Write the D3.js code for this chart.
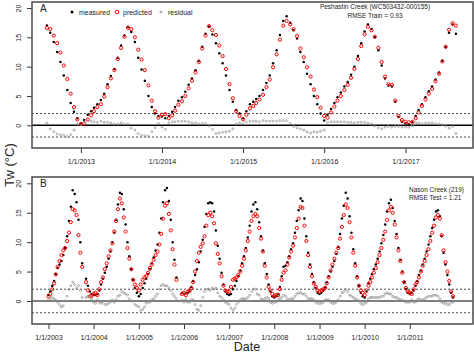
<!DOCTYPE html>
<html lang="en">
<head>
<meta charset="UTF-8">
<script src="https://cdn.jsdelivr.net/npm/d3@7"></script>
<style>
  body { margin: 0; background: #fff; }
  svg { display: block; font-family: "Liberation Sans", Arial, sans-serif; }
  .tick text { font-size: 7px; fill: #222; }
</style>
</head>
<body>
<svg id="chart" width="474" height="354"></svg>
<script>
// Semi-monthly readings (1st and 16th of each month), water temperature in deg C
// Panel A - Peshastin Creek, starts 1 Aug 2012
const aStart = "2012-08-01";
const aMeasured = [
  17.0, 15.8, 14.2, 12.5, 10.8, 8.5, 6.0, 3.8, 2.3, 1.2,
  0.3, 0.9, 1.8, 2.4, 3.0, 3.6, 4.3, 5.4, 7.0, 8.4, 9.6, 11.5, 13.6, 15.3, 16.8, 15.9, 14.2, 11.5, 9.5, 7.6, 5.0, 3.1, 2.0, 1.6,
  1.5, 1.2, 1.6, 2.3, 3.1, 4.2, 4.8, 5.7, 6.9, 8.0, 9.4, 11.0, 13.4, 15.6, 16.8, 15.5, 14.0, 12.3, 10.6, 8.5, 6.0, 4.0, 2.6, 2.0,
  1.2, 2.4, 3.6, 4.0, 4.5, 5.0, 6.0, 7.2, 8.5, 10.6, 12.8, 15.4, 17.8, 18.6, 17.5, 16.2, 14.8, 12.5, 10.8, 8.8, 7.0, 5.0, 3.6, 2.0,
  0.8, 1.8, 2.8, 3.8, 4.8, 5.6, 6.6, 7.4, 8.6, 10.0, 11.8, 14.0, 16.0, 17.2, 16.4, 15.0, 12.8, 10.2, 8.0, 6.8, 6.6, 4.0, 1.4, 0.6,
  0.3, 0.2, 0.5, 1.6, 2.6, 3.6, 4.8, 5.8, 6.6, 7.8, 9.0, 11.0, 13.3, 15.8, 17.2, 15.6
];
const aPredicted = [
  16.6, 16.4, 15.3, 14.0, 12.4, 10.2, 7.9, 5.4, 3.1, 1.0,
  0.2, 0.3, 1.0, 1.7, 2.4, 3.1, 3.6, 4.9, 6.5, 8.0, 9.4, 11.3, 13.2, 15.1, 16.6, 16.4, 15.0, 12.9, 11.2, 9.4, 6.8, 4.2, 2.4, 1.3,
  1.8, 1.9, 1.2, 1.7, 2.5, 3.5, 4.1, 5.0, 6.3, 7.6, 9.0, 10.8, 13.1, 15.3, 16.9, 16.2, 15.4, 13.6, 11.8, 9.6, 7.0, 4.6, 2.4, 1.6,
  1.0, 1.8, 2.9, 3.3, 3.8, 4.4, 5.2, 6.5, 7.8, 9.9, 12.1, 14.6, 17.0, 17.8, 17.2, 16.4, 15.2, 13.1, 11.6, 9.9, 8.3, 6.1, 4.8, 3.0,
  1.6, 1.3, 2.2, 3.2, 4.2, 5.0, 6.0, 6.9, 8.1, 9.6, 11.3, 13.5, 15.5, 16.8, 16.2, 15.1, 13.2, 10.8, 8.3, 7.0, 6.9, 4.2, 1.6, 0.9,
  0.6, 0.5, 0.6, 1.2, 2.2, 3.3, 4.4, 5.4, 6.2, 7.5, 8.8, 10.9, 13.4, 16.3, 17.4, 17.0
];
const aTicks = ["2013-01-01", "2014-01-01", "2015-01-01", "2016-01-01", "2017-01-01"];

// Panel B - Nason Creek, starts 1 Jan 2003 (null = no record)
const bStart = "2003-01-01";
const bMeasured = [
  1.0, 1.6, 2.6, 3.4, 4.6, 5.6, 6.2, 6.8, 7.8, 9.0, 11.0, 13.6, 16.0, 18.8, 18.2, 16.8, 13.8, 10.0, 6.4, null, 3.8, 2.6, 1.6, 1.2,
  1.0, 1.0, 1.2, 1.8, 2.8, 3.8, 4.8, 5.8, 7.2, 8.4, 10.0, 11.6, 13.8, 16.4, 18.4, 18.2, 15.6, 13.0, 10.0, 7.6, 5.4, 3.6, 2.2, 1.4,
  0.8, 1.2, 2.2, 3.0, 3.8, 4.6, 5.4, 6.4, 7.4, 8.6, 9.6, 11.6, 14.0, 16.8, 18.8, 19.2, 17.0, 13.8, 10.0, 7.0, 4.0, null, null, 1.4,
  1.2, 1.3, 1.4, 1.6, 2.4, 3.4, 4.4, 5.4, 6.6, 8.4, 10.4, 12.6, 14.8, 16.6, 16.8, 16.6, 15.2, 12.0, 9.4, 7.2, 4.8, 2.8, 1.6, 1.2,
  1.0, 1.2, 2.0, 2.6, 3.4, 4.2, 5.2, 6.4, 7.6, 9.0, 10.8, 12.8, 15.2, 16.4, 16.8, 15.6, 13.4, 11.0, 8.6, 6.4, 4.6, 2.8, 1.6, 0.8,
  0.6, 0.8, 1.2, 2.4, 4.2, 5.8, 6.0, 6.6, 7.6, 8.8, 9.8, 11.6, 13.6, 15.4, 17.4, 17.0, 14.0, 11.0, 8.2, 6.2, 4.6, 3.2, 2.2, 1.4,
  1.2, 1.4, 1.8, 2.4, 3.2, 4.2, 5.0, 5.8, 6.8, 8.0, 9.2, 11.4, 14.0, 16.2, 18.4, 17.4, 14.4, 11.6, 8.8, 6.4, 4.2, 2.6, 1.4, 0.8,
  0.6, 1.6, 3.0, 3.8, 4.6, 5.4, 6.2, 7.2, 8.4, 9.8, 11.2, 13.0, 15.2, 16.6, 17.2, 15.8, 13.6, 11.4, 9.0, 7.0, 5.0, 3.2, 2.0, 1.4,
  1.2, 1.4, 1.8, 2.6, 3.4, 4.4, 5.2, 6.2, 7.2, 8.4, 9.6, 11.0, 12.4, 13.8, 15.2, 15.4, 14.4, 11.0, 8.2, 6.2, 4.4, 2.8, 1.4, 0.6
];
const bPredicted = [
  0.8, 1.2, 2.0, 3.0, 4.5, 5.8, 6.8, 7.8, 8.6, 9.0, 10.2, 11.6, 13.4, 15.6, 15.4, 14.6, 11.2, 8.2, 5.8, null, 3.2, 1.8, 0.8, 0.9,
  1.2, 1.4, 1.0, 2.0, 3.2, 4.0, 5.4, 6.4, 7.6, 8.6, 9.8, 11.8, 13.6, 15.6, 17.4, 16.6, 14.2, 11.8, 9.0, 7.2, 5.4, 3.6, 2.8, 2.2,
  1.8, 2.8, 3.6, 4.0, 4.2, 4.8, 5.6, 6.2, 7.0, 7.8, 8.4, 9.6, 11.4, 14.0, 16.2, 16.6, 14.8, 12.0, 8.8, 6.2, 3.6, null, null, 1.2,
  1.4, 1.0, 1.6, 1.8, 2.2, 3.2, 5.0, 6.8, 8.2, 9.2, 9.8, 11.0, 12.8, 14.6, 15.0, 14.4, 13.2, 9.8, 8.0, 6.4, 4.2, 2.6, 1.8, 1.6,
  1.6, 2.4, 3.6, 3.8, 4.0, 4.4, 5.0, 6.0, 7.2, 8.6, 10.2, 11.8, 13.6, 14.4, 14.8, 14.4, 12.4, 10.6, 8.4, 6.0, 4.0, 2.4, 1.8, 1.2,
  0.8, 1.0, 1.0, 2.0, 3.6, 4.8, 5.2, 6.2, 7.4, 8.4, 9.4, 10.8, 12.4, 14.0, 16.0, 15.8, 12.8, 10.2, 7.8, 5.8, 4.2, 3.0, 2.4, 1.8,
  1.6, 1.8, 2.0, 2.2, 3.0, 4.0, 5.2, 6.2, 7.2, 8.2, 9.0, 10.6, 12.6, 14.6, 16.4, 15.8, 13.4, 10.8, 8.2, 6.0, 4.0, 2.6, 1.8, 1.4,
  1.0, 1.8, 2.6, 3.2, 4.0, 4.8, 5.6, 6.6, 7.8, 9.0, 10.4, 11.8, 13.8, 15.4, 16.0, 15.0, 13.0, 10.8, 8.6, 6.8, 4.8, 3.2, 2.2, 1.6,
  1.4, 1.2, 2.0, 2.8, 3.2, 4.0, 5.0, 6.0, 6.8, 7.8, 8.8, 10.2, 11.6, 12.8, 14.2, 14.6, 14.0, 11.2, 8.6, 6.6, 5.0, 3.4, 1.6, 0.8
];
const bTicks = ["2003-01-01", "2004-01-01", "2005-01-01", "2006-01-01", "2007-01-01",
                "2008-01-01", "2009-01-01", "2010-01-01", "2011-01-01"];

const yTicks = [0, 5, 10, 15, 20];
const limits = [-2, 2];

const svg = d3.select("#chart");
const parse = d3.utcParse("%Y-%m-%d");
const fmt = d3.utcFormat("%-m/%-d/%Y");

// build {date, m, p, r} rows, two readings per month
function buildRows(start, meas, pred) {
  const s = parse(start);
  return meas.map((m, i) => {
    const d = d3.utcMonth.offset(s, Math.floor(i / 2));
    const date = i % 2 ? d3.utcDay.offset(d, 15) : d;
    const p = pred[i];
    return { date, m, p, r: (m == null || p == null) ? null : m - p };
  });
}

function drawPanel(cfg) {
  const g = svg.append("g");
  const x = d3.scaleUtc().domain(cfg.xDomain).range([cfg.left, cfg.right]);
  const y = d3.scaleLinear().domain([0, 20]).range([cfg.y0, cfg.y20]);
  const rows = buildRows(cfg.start, cfg.meas, cfg.pred);

  const clipId = "clip" + cfg.label;
  g.append("clipPath").attr("id", clipId).append("rect")
    .attr("x", cfg.left).attr("y", cfg.top)
    .attr("width", cfg.right - cfg.left).attr("height", cfg.bottom - cfg.top);
  const plot = g.append("g").attr("clip-path", `url(#${clipId})`);

  // reference lines
  plot.selectAll("line.lim").data(limits).join("line")
    .attr("x1", cfg.left).attr("x2", cfg.right)
    .attr("y1", d => y(d)).attr("y2", d => y(d))
    .attr("stroke", "#333").attr("stroke-width", 0.9).attr("stroke-dasharray", "2,2");
  plot.append("line")
    .attr("x1", cfg.left).attr("x2", cfg.right)
    .attr("y1", y(0)).attr("y2", y(0))
    .attr("stroke", cfg.zeroColor).attr("stroke-width", 1.5);

  plot.selectAll("circle.m").data(rows.filter(d => d.m != null)).join("circle")
    .attr("cx", d => x(d.date)).attr("cy", d => y(d.m)).attr("r", 1.25)
    .attr("fill", "#000");
  plot.selectAll("circle.p").data(rows.filter(d => d.p != null)).join("circle")
    .attr("cx", d => x(d.date)).attr("cy", d => y(d.p)).attr("r", 1.6)
    .attr("fill", "none").attr("stroke", "#ff0000").attr("stroke-width", 1);
  plot.selectAll("circle.r").data(rows.filter(d => d.r != null)).join("circle")
    .attr("cx", d => x(d.date)).attr("cy", d => y(d.r)).attr("r", 1)
    .attr("fill", "none").attr("stroke", "#8a8a8a").attr("stroke-width", 0.7);

  // axes
  g.append("g").attr("transform", `translate(0,${cfg.bottom})`)
    .call(d3.axisBottom(x).tickValues(cfg.ticks.map(parse)).tickFormat(fmt).tickSize(5).tickPadding(6))
    .call(a => a.select(".domain").remove())
    .call(a => a.selectAll(".tick line").attr("stroke", "#333"));
  g.append("g").attr("transform", `translate(${cfg.left},0)`)
    .call(d3.axisLeft(y).tickValues(yTicks).tickSize(5).tickPadding(3))
    .call(a => a.select(".domain").remove())
    .call(a => a.selectAll(".tick line").attr("stroke", "#333"))
    .call(a => a.selectAll(".tick text")
      .attr("transform", "rotate(-90)").attr("x", 0).attr("y", -11)
      .attr("text-anchor", "middle").attr("dy", 0));

  g.append("rect")
    .attr("x", cfg.left).attr("y", cfg.top)
    .attr("width", cfg.right - cfg.left).attr("height", cfg.bottom - cfg.top)
    .attr("fill", "none").attr("stroke", "#555").attr("stroke-width", 1.6);

  g.append("text").attr("x", cfg.left + 8).attr("y", cfg.top + 10)
    .attr("font-size", 10).attr("fill", "#222").text(cfg.label);

  return g;
}

const gA = drawPanel({
  label: "A", start: aStart, meas: aMeasured, pred: aPredicted, ticks: aTicks,
  xDomain: [parse("2012-05-26"), parse("2017-11-01")],
  left: 32, right: 473, top: 2, bottom: 148, y0: 125.3, y20: 8, zeroColor: "#000"
});
const gB = drawPanel({
  label: "B", start: bStart, meas: bMeasured, pred: bPredicted, ticks: bTicks,
  xDomain: [parse("2002-08-21"), parse("2012-05-26")],
  left: 32, right: 473, top: 177, bottom: 324, y0: 301, y20: 183.3, zeroColor: "#555"
});

// legend (panel A)
const leg = gA.append("g");
leg.append("circle").attr("cx", 72).attr("cy", 12).attr("r", 1.5).attr("fill", "#000");
leg.append("circle").attr("cx", 117).attr("cy", 12).attr("r", 1.8)
  .attr("fill", "none").attr("stroke", "#ff0000").attr("stroke-width", 1);
leg.append("circle").attr("cx", 161).attr("cy", 12).attr("r", 1)
  .attr("fill", "none").attr("stroke", "#8a8a8a").attr("stroke-width", 0.8);
leg.selectAll("text").data([[79, "measured"], [123, "predicted"], [168, "residual"]]).join("text")
  .attr("x", d => d[0]).attr("y", 14.5)
  .attr("font-size", 7).attr("fill", "#222").text(d => d[1]);

// annotations
gA.append("text").attr("x", 375).attr("y", 8.5).attr("text-anchor", "middle")
  .attr("font-size", 6.5).attr("fill", "#222").text("Peshastin Creek (WC503432-000155)");
gA.append("text").attr("x", 375).attr("y", 17.5).attr("text-anchor", "middle")
  .attr("font-size", 6.5).attr("fill", "#222").text("RMSE Train = 0.93");
gB.append("text").attr("x", 409).attr("y", 191.5)
  .attr("font-size", 6.5).attr("fill", "#222").text("Nason Creek (219)");
gB.append("text").attr("x", 409).attr("y", 199.5)
  .attr("font-size", 6.5).attr("fill", "#222").text("RMSE Test = 1.21");

// axis titles
svg.append("text").attr("x", 247).attr("y", 350.5).attr("text-anchor", "middle")
  .attr("font-size", 12.5).attr("fill", "#222").text("Date");
svg.append("text").attr("transform", "translate(14,165) rotate(-90)")
  .attr("text-anchor", "middle").attr("font-size", 13).attr("fill", "#222").text("Tw (°C)");
</script>
</body>
</html>
